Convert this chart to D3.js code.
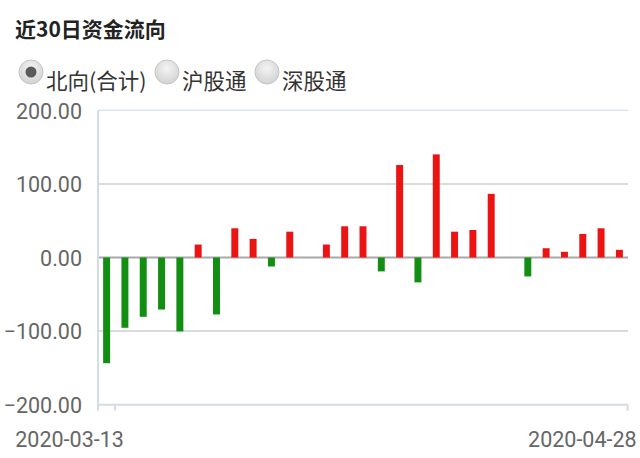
<!DOCTYPE html>
<html>
<head>
<meta charset="utf-8">
<script src="https://cdn.jsdelivr.net/npm/d3@7"></script>
<style>
  body { margin: 0; background: #fff; }
  text { font-family: Roboto, "Noto Sans CJK SC", sans-serif; }
</style>
</head>
<body>
<script>
var width = 640;
var height = 458;

// trading days shown (two of them had no northbound flow)
var dates = ["2020-03-13", "2020-03-16", "2020-03-17", "2020-03-18", "2020-03-19", "2020-03-20",
  "2020-03-23", "2020-03-24", "2020-03-25", "2020-03-26", "2020-03-27", "2020-03-30",
  "2020-03-31", "2020-04-01", "2020-04-02", "2020-04-03", "2020-04-07", "2020-04-08",
  "2020-04-09", "2020-04-14", "2020-04-15", "2020-04-16", "2020-04-17", "2020-04-20",
  "2020-04-21", "2020-04-22", "2020-04-23", "2020-04-24", "2020-04-28"];
var flows = [-143.6, -95.5, -80.6, -70.7, -100.4, 17.6, -77.4, 39.7, 25.3, -12.2, 35.1, null,
  17.6, 42.4, 42.4, -18.9, 125.7, -33.8, 140.1, 35.1, 37.4, 86.5, null,
  -25.7, 12.6, 7.7, 32.0, 39.7, 10.4];
var yTicks = [-200, -100, 0, 100, 200];
var xTickLabels = ["2020-03-13", "2020-04-28"];
var legendItems = ["北向(合计)", "沪股通", "深股通"];

var plotLeft = 98, plotRight = 628, plotTop = 110.3, plotBottom = 404.7;

var svg = d3.select("body").append("svg")
  .attr("width", width)
  .attr("height", height);

// title
svg.append("text")
  .attr("x", 15).attr("y", 37)
  .style("font-family", "'Noto Sans CJK SC', sans-serif")
  .style("font-size", "21px")
  .style("font-weight", "bold")
  .style("fill", "#222")
  .text("近30日资金流向");

// radio legend
var grad = svg.append("defs").append("radialGradient")
  .attr("id", "radioFill").attr("cx", "50%").attr("cy", "35%").attr("r", "65%");
grad.append("stop").attr("offset", "0%").attr("stop-color", "#f4f4f4");
grad.append("stop").attr("offset", "100%").attr("stop-color", "#d2d2d2");

var legendX = [31, 167, 267];
var legend = svg.selectAll(".legend")
  .data(legendItems)
  .enter().append("g")
  .attr("class", "legend")
  .attr("transform", function(d, i){ return "translate(" + legendX[i] + ",72)"; });

legend.append("circle")
  .attr("r", 12)
  .attr("fill", "url(#radioFill)")
  .attr("stroke", "#c4c4c4")
  .attr("stroke-width", 1);

legend.filter(function(d, i){ return i == 0; })
  .append("circle")
  .attr("r", 5.5)
  .attr("fill", "#5a5a5a");

legend.append("text")
  .attr("x", 15).attr("y", 17)
  .style("font-family", "'Noto Sans CJK SC', sans-serif")
  .style("font-size", "21.5px")
  .style("fill", "#333")
  .text(function(d){ return d; });

// scales
var x = d3.scaleBand()
  .domain(dates)
  .range([plotLeft, plotRight])
  .paddingInner(0.62)
  .paddingOuter(0.28);

var y = d3.scaleLinear()
  .domain([-200, 200])
  .range([plotBottom, plotTop]);

// grid lines
svg.selectAll(".grid")
  .data(yTicks.filter(function(d){ return d > -200; }))
  .enter().append("line")
  .attr("class", "grid")
  .attr("x1", plotLeft).attr("x2", plotRight)
  .attr("y1", function(d){ return y(d); })
  .attr("y2", function(d){ return y(d); })
  .attr("stroke", function(d){ return d == 0 ? "#a8a8a8" : (d == 200 ? "#dde3ec" : "#cfcfcf"); })
  .attr("stroke-width", function(d){ return d == 0 ? 2 : 1.5; });

// y axis labels
var yAxis = svg.append("g")
  .attr("transform", "translate(82,1)")
  .call(d3.axisLeft(y).tickValues(yTicks).tickSize(0).tickPadding(0).tickFormat(d3.format(".2f")));
yAxis.select(".domain").remove();
yAxis.selectAll("text")
  .style("font-family", "Roboto, sans-serif")
  .style("font-size", "21.5px")
  .style("fill", "#666");

// axis lines
svg.append("line")
  .attr("x1", plotLeft).attr("x2", plotLeft)
  .attr("y1", plotTop).attr("y2", plotBottom + 6)
  .attr("stroke", "#d3dbe6").attr("stroke-width", 2);

var xAxis = svg.append("g")
  .attr("transform", "translate(0," + plotBottom + ")");
xAxis.append("line")
  .attr("x1", plotLeft).attr("x2", plotRight)
  .attr("stroke", "#d3dbe6").attr("stroke-width", 2);

var tickPos = function(d){ return x(d) + x.bandwidth() / 2 + x.step() * 0.45; };
var xt = xAxis.selectAll(".xtick")
  .data(xTickLabels)
  .enter().append("g")
  .attr("class", "xtick")
  .attr("transform", function(d){ return "translate(" + tickPos(d) + ",0)"; });
xt.append("line")
  .attr("y1", 0).attr("y2", 6)
  .attr("stroke", "#d3dbe6").attr("stroke-width", 2);
xt.append("text")
  .attr("x", 9).attr("y", 42)
  .attr("text-anchor", "end")
  .style("font-family", "Roboto, sans-serif")
  .style("font-size", "21.5px")
  .style("fill", "#666")
  .text(function(d){ return d; });

// bars
svg.selectAll(".bar")
  .data(dates.map(function(d, i){ return {date: d, v: flows[i]}; })
    .filter(function(d){ return d.v != null; }))
  .enter().append("rect")
  .attr("class", "bar")
  .attr("x", function(d){ return x(d.date); })
  .attr("width", x.bandwidth())
  .attr("y", function(d){ return y(Math.max(0, d.v)); })
  .attr("height", function(d){ return Math.abs(y(d.v) - y(0)); })
  .attr("fill", function(d){ return d.v >= 0 ? "#ec1313" : "#128f12"; });
</script>
</body>
</html>
